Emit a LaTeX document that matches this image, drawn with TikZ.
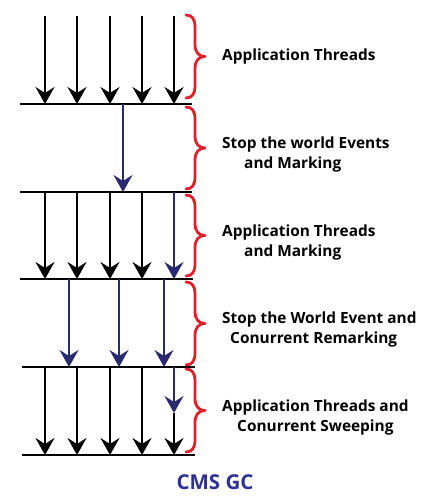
\documentclass[tikz,border=0pt]{standalone}
\usepackage{fontspec}
\usetikzlibrary{arrows.meta}
\newfontfamily\labfontx{Open Sans}
\def\labfont{\labfontx\bfseries}
\definecolor{navy}{RGB}{42,42,112}
\definecolor{titleblue}{RGB}{46,49,146}
\definecolor{bracered}{RGB}{226,32,44}
\tikzset{
  baseline/.style={line width=2.4pt, black},
  blackarr/.style={line width=2pt, black, -{Stealth[length=17pt,width=19pt,inset=6pt]}},
  bluearr/.style={line width=2pt, navy, -{Stealth[length=17pt,width=19pt,inset=6pt]}},
  bracestyle/.style={line width=2.8pt, bracered, line cap=round, line join=round},
  lab/.style={anchor=base west, inner sep=0pt, font=\labfont\fontsize{15.4}{19}\selectfont},
}
\newcommand\mybrace[2]{%
  \draw[bracestyle] (186,#1) .. controls (192,#1) and (195,#1+4) .. (195,#1+12)
    -- (195,{(#1+#2)/2-12}) .. controls (195,{(#1+#2)/2-4}) and (199,{(#1+#2)/2}) .. (205,{(#1+#2)/2})
    .. controls (199,{(#1+#2)/2}) and (195,{(#1+#2)/2+4}) .. (195,{(#1+#2)/2+12})
    -- (195,#2-12) .. controls (195,#2-4) and (192,#2) .. (186,#2);}
\begin{document}
\begin{tikzpicture}[x=1pt,y=-1pt]
\useasboundingbox (0,0) rectangle (430,500);
% horizontal lines
\coordinate (L1w) at (20,104);  \coordinate (L1e) at (192,104);
\coordinate (L2w) at (20,192);  \coordinate (L2e) at (192,192);
\coordinate (L3w) at (20,279);  \coordinate (L3e) at (193,279);
\coordinate (L4w) at (22,367);  \coordinate (L4e) at (195,367);
\coordinate (L5w) at (22,455);  \coordinate (L5e) at (195,455);
\foreach \i in {1,...,5}{\draw[baseline] (L\i w) -- (L\i e);}
% section 1: application threads
\foreach \x [count=\k] in {45,77,110,142,174}{
  \coordinate (a\k) at (\x,16);
  \draw[blackarr] (a\k) -- (a\k |- L1w);}
% section 2: stop the world
\coordinate (b1) at (123,104);
\draw[bluearr] (b1) -- (b1 |- L2w);
% section 3
\foreach \x [count=\k] in {45,77,110,142}{
  \coordinate (c\k) at (\x,192);
  \draw[blackarr] (c\k) -- (c\k |- L3w);}
\coordinate (c5) at (174,192);
\draw[bluearr] (c5) -- (c5 |- L3w);
% section 4
\foreach \x [count=\k] in {69,119,164}{
  \coordinate (d\k) at (\x,279);
  \draw[bluearr] (d\k) -- (d\k |- L4w);}
% section 5
\foreach \x [count=\k] in {45,77,110,142,174}{
  \coordinate (e\k) at (\x,367);}
\coordinate (em) at (174,413);
\foreach \k in {1,...,4}{\draw[blackarr] (e\k) -- (e\k |- L5w);}
\draw[bluearr] (e5) -- (em);
\draw[blackarr] (em) -- (em |- L5w);
% braces
\mybrace{15}{98}
\mybrace{107}{189}
\mybrace{195}{276}
\mybrace{282}{365}
\mybrace{369}{452}
% labels
\node[lab] (t1) at (222,61) {Application Threads};
\node[lab] (t2a) at (222,148) {Stop the world Events};
\node[lab] (t2b) at (244,168) {and Marking};
\node[lab] (t3a) at (222,236) {Application Threads};
\node[lab] (t3b) at (244,256) {and Marking};
\node[lab] (t4a) at (222,323) {Stop the World Event and};
\node[lab] (t4b) at (230,343) {Conurrent Remarking};
\node[lab] (t5a) at (222,411) {Application Threads and};
\node[lab] (t5b) at (237,431) {Conurrent Sweeping};
\node[anchor=base, inner sep=0pt, text=titleblue, font=\labfont\fontsize{20.5}{24}\selectfont] (title) at (215,489) {CMS GC};
\end{tikzpicture}
\end{document}
